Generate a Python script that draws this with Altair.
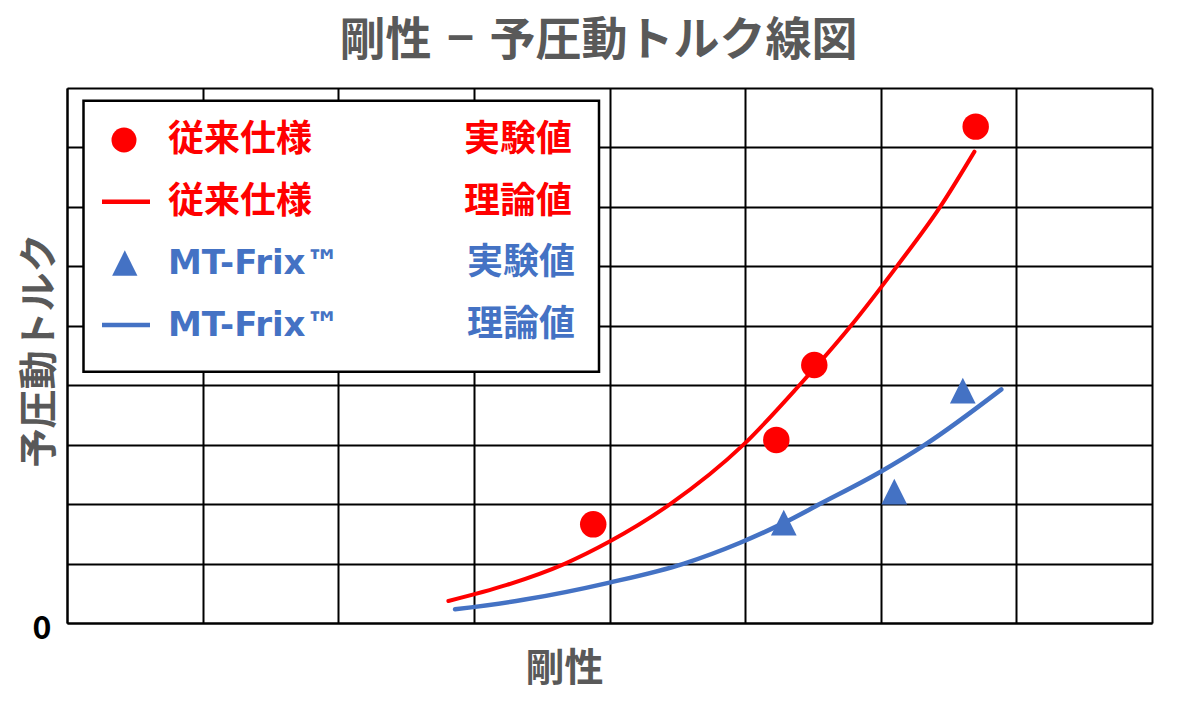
import altair as alt
import pandas as pd

# ---------------- data ----------------
red_exp_x = [3.88, 5.23, 5.51, 6.70]
red_exp_y = [1.66, 3.08, 4.34, 8.35]

blue_exp_x = [5.285, 6.10, 6.605]
blue_exp_y = [1.69, 2.21, 3.91]

red_fit_x = [2.812, 3.243, 3.673, 4.0, 4.447, 4.988, 5.40, 5.78, 6.119, 6.438, 6.691]
red_fit_y = [0.37, 0.64, 1.0, 1.37, 2.0, 3.0, 4.0, 5.0, 6.0, 7.0, 7.93]

blue_fit_x = [2.861, 3.365, 4.0, 4.55, 4.963, 5.282, 5.55, 5.996, 6.327, 6.889]
blue_fit_y = [0.23, 0.39, 0.68, 1.0, 1.35, 1.68, 2.0, 2.54, 3.0, 3.93]

x_grid = list(range(0, 9))
y_grid = list(range(0, 10))

legend_names = ["従来仕様", "従来仕様", "MT-Frix™", "MT-Frix™"]
legend_kinds = ["実験値", "理論値", "実験値", "理論値"]

title_text = "剛性\u2004−\u2004予圧動トルク線図"
x_title = "剛性"
y_title = "予圧動トルク"

# ---------------- style ----------------
FONT = "Noto Sans CJK JP"
LATIN = "DejaVu Sans"
RED = "#FF0000"
BLUE = "#4472C4"
GRAY = "#595959"
TRI = "M-1,1L0,-1L1,1Z"

W, H = 1085, 535

x_enc = alt.X(
    "x:Q",
    scale=alt.Scale(domain=[0, 8], nice=False, zero=False),
    axis=alt.Axis(
        values=x_grid, labels=False, ticks=False, grid=True,
        gridColor="black", gridWidth=2, gridOpacity=1,
        domainColor="black", domainWidth=2,
        title=x_title, titleFont=FONT, titleFontSize=39, titleFontWeight="bold",
        titleColor=GRAY, titleX=497, titleY=45, titleBaseline="middle",
        titleAlign="center",
    ),
)
y_enc = alt.Y(
    "y:Q",
    scale=alt.Scale(domain=[0, 9], nice=False, zero=False),
    axis=alt.Axis(
        values=y_grid, ticks=False, grid=True,
        gridColor="black", gridWidth=2, gridOpacity=1,
        domainColor="black", domainWidth=2,
        labelExpr="datum.value == 0 ? '0' : ''",
        labelFont=FONT, labelFontSize=32, labelFontWeight="bold",
        labelColor="black", labelPadding=16, labelOffset=5, labelFlush=False,
        labelOverlap=False,
        title=y_title, titleFont=FONT, titleFontSize=39, titleFontWeight="bold",
        titleColor=GRAY, titleX=-28, titleY=262, titleAngle=270,
        titleBaseline="middle", titleAlign="center",
    ),
)

red_fit = pd.DataFrame({"x": red_fit_x, "y": red_fit_y})
blue_fit = pd.DataFrame({"x": blue_fit_x, "y": blue_fit_y})
red_exp = pd.DataFrame({"x": red_exp_x, "y": red_exp_y})
blue_exp = pd.DataFrame({"x": blue_exp_x, "y": blue_exp_y})

layers = [
    alt.Chart(red_fit).mark_line(color=RED, strokeWidth=4, interpolate="monotone",
                                 strokeCap="round").encode(x=x_enc, y=y_enc),
    alt.Chart(blue_fit).mark_line(color=BLUE, strokeWidth=4.5, interpolate="monotone",
                                  strokeCap="round").encode(x=x_enc, y=y_enc),
    alt.Chart(red_exp).mark_point(shape="circle", filled=True, size=700, color=RED,
                                  opacity=1).encode(x=x_enc, y=y_enc),
    alt.Chart(blue_exp).mark_point(shape=TRI, filled=True, size=660, color=BLUE,
                                   opacity=1).encode(x=x_enc, y=y_enc),
]

# ---------------- legend box (pixel layout) ----------------
one = pd.DataFrame({"k": [0]})
layers.append(
    alt.Chart(one).mark_rect(fill="white", stroke="black", strokeWidth=2.5).encode(
        x=alt.value(16.5), x2=alt.value(532), y=alt.value(12.7), y2=alt.value(283.7)
    )
)
row_y = [52, 113.7, 175, 237]
row_col = [RED, RED, BLUE, BLUE]
row_kind_right = [505, 505, 508, 508]
for i in range(4):
    c = row_col[i]
    if i == 0:
        sym = alt.Chart(one).mark_point(shape="circle", filled=True, size=625,
                                        color=c, opacity=1).encode(
            x=alt.value(57), y=alt.value(row_y[i]))
    elif i == 2:
        sym = alt.Chart(one).mark_point(shape=TRI, filled=True, size=640,
                                        color=c, opacity=1).encode(
            x=alt.value(57.8), y=alt.value(row_y[i]))
    else:
        sym = alt.Chart(one).mark_rule(color=c, strokeWidth=4.5).encode(
            x=alt.value(35), x2=alt.value(83), y=alt.value(row_y[i]))
    layers.append(sym)
    name_df = pd.DataFrame({"t": [legend_names[i]]})
    kind_df = pd.DataFrame({"t": [legend_kinds[i]]})
    is_latin = legend_names[i].startswith("MT")
    layers.append(
        alt.Chart(name_df).mark_text(align="left", baseline="middle",
                                     font=LATIN if is_latin else FONT,
                                     fontSize=34 if is_latin else 36,
                                     fontWeight="bold", color=c).encode(
            text="t:N", x=alt.value(101), y=alt.value(row_y[i] + (1 if is_latin else 0)))
    )
    layers.append(
        alt.Chart(kind_df).mark_text(align="right", baseline="middle", font=FONT,
                                     fontSize=36, fontWeight="bold", color=c).encode(
            text="t:N", x=alt.value(row_kind_right[i]), y=alt.value(row_y[i]))
    )

chart = alt.layer(*layers).properties(
    width=W, height=H,
    autosize=alt.AutoSizeParams(type="none"),
    padding={"left": 59, "top": 80, "right": 40, "bottom": 80},
    title=alt.TitleParams(title_text, font=FONT, fontSize=46, fontWeight="bold",
                          color=GRAY, anchor="middle", frame="group", offset=12, dx=-11),
).configure_view(stroke="black", strokeWidth=2).configure(background="white")

chart.save("out.html", embed_options={"renderer": "svg", "actions": False})
